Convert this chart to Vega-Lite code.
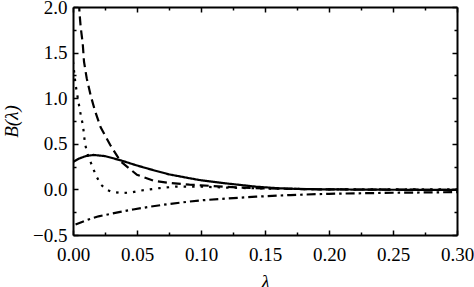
{
  "$schema": "https://vega.github.io/schema/vega-lite/v6.json",
  "width": 384,
  "height": 228,
  "autosize": {"type": "none"},
  "padding": {"left": 73, "top": 7, "right": 17, "bottom": 52},
  "background": "white",
  "config": {
    "view": {"stroke": null},
    "axis": {
      "domainColor": "black",
      "domainWidth": 2,
      "tickColor": "black",
      "tickWidth": 1.5,
      "grid": false,
      "labelFont": "Liberation Serif",
      "labelFontSize": 19,
      "labelColor": "black",
      "titleFont": "Liberation Serif",
      "titleFontSize": 19,
      "titleFontStyle": "italic",
      "titleFontWeight": "normal",
      "titleColor": "black"
    }
  },
  "data": {
    "values": [
      {"series": "a", "x": 0.0, "y": 0.30},
      {"series": "a", "x": 0.005, "y": 0.34},
      {"series": "a", "x": 0.01, "y": 0.365},
      {"series": "a", "x": 0.016, "y": 0.378},
      {"series": "a", "x": 0.025, "y": 0.365},
      {"series": "a", "x": 0.037, "y": 0.32},
      {"series": "a", "x": 0.05, "y": 0.262},
      {"series": "a", "x": 0.063, "y": 0.21},
      {"series": "a", "x": 0.075, "y": 0.165},
      {"series": "a", "x": 0.09, "y": 0.125},
      {"series": "a", "x": 0.1, "y": 0.1},
      {"series": "a", "x": 0.117, "y": 0.07},
      {"series": "a", "x": 0.13, "y": 0.05},
      {"series": "a", "x": 0.143, "y": 0.03},
      {"series": "a", "x": 0.16, "y": 0.013},
      {"series": "a", "x": 0.18, "y": 0.003},
      {"series": "a", "x": 0.2, "y": 0.0},
      {"series": "a", "x": 0.25, "y": -0.004},
      {"series": "a", "x": 0.3, "y": -0.005},

      {"series": "b", "x": 0.0048, "y": 2.05},
      {"series": "b", "x": 0.005, "y": 1.95},
      {"series": "b", "x": 0.006, "y": 1.78},
      {"series": "b", "x": 0.0076, "y": 1.6},
      {"series": "b", "x": 0.0086, "y": 1.4},
      {"series": "b", "x": 0.0107, "y": 1.22},
      {"series": "b", "x": 0.0138, "y": 1.03},
      {"series": "b", "x": 0.017, "y": 0.87},
      {"series": "b", "x": 0.0216, "y": 0.68},
      {"series": "b", "x": 0.029, "y": 0.49},
      {"series": "b", "x": 0.037, "y": 0.31},
      {"series": "b", "x": 0.05, "y": 0.16},
      {"series": "b", "x": 0.063, "y": 0.095},
      {"series": "b", "x": 0.076, "y": 0.07},
      {"series": "b", "x": 0.091, "y": 0.052},
      {"series": "b", "x": 0.1, "y": 0.045},
      {"series": "b", "x": 0.13, "y": 0.02},
      {"series": "b", "x": 0.16, "y": 0.008},
      {"series": "b", "x": 0.2, "y": 0.0},
      {"series": "b", "x": 0.3, "y": -0.005},

      {"series": "c", "x": 0.0, "y": 1.40},
      {"series": "c", "x": 0.002, "y": 1.15},
      {"series": "c", "x": 0.004, "y": 0.98},
      {"series": "c", "x": 0.006, "y": 0.82},
      {"series": "c", "x": 0.0078, "y": 0.70},
      {"series": "c", "x": 0.0094, "y": 0.50},
      {"series": "c", "x": 0.0115, "y": 0.38},
      {"series": "c", "x": 0.0146, "y": 0.27},
      {"series": "c", "x": 0.018, "y": 0.15},
      {"series": "c", "x": 0.022, "y": 0.05},
      {"series": "c", "x": 0.026, "y": 0.0},
      {"series": "c", "x": 0.03, "y": -0.025},
      {"series": "c", "x": 0.038, "y": -0.04},
      {"series": "c", "x": 0.045, "y": -0.035},
      {"series": "c", "x": 0.052, "y": -0.015},
      {"series": "c", "x": 0.06, "y": 0.0},
      {"series": "c", "x": 0.068, "y": 0.015},
      {"series": "c", "x": 0.08, "y": 0.03},
      {"series": "c", "x": 0.1, "y": 0.03},
      {"series": "c", "x": 0.12, "y": 0.02},
      {"series": "c", "x": 0.15, "y": 0.01},
      {"series": "c", "x": 0.2, "y": 0.0},
      {"series": "c", "x": 0.3, "y": 0.0},

      {"series": "d", "x": 0.002, "y": -0.385},
      {"series": "d", "x": 0.01, "y": -0.34},
      {"series": "d", "x": 0.02, "y": -0.295},
      {"series": "d", "x": 0.034, "y": -0.255},
      {"series": "d", "x": 0.047, "y": -0.22},
      {"series": "d", "x": 0.06, "y": -0.19},
      {"series": "d", "x": 0.075, "y": -0.16},
      {"series": "d", "x": 0.09, "y": -0.135},
      {"series": "d", "x": 0.1, "y": -0.12},
      {"series": "d", "x": 0.12, "y": -0.1},
      {"series": "d", "x": 0.143, "y": -0.08},
      {"series": "d", "x": 0.17, "y": -0.062},
      {"series": "d", "x": 0.2, "y": -0.048},
      {"series": "d", "x": 0.25, "y": -0.037},
      {"series": "d", "x": 0.3, "y": -0.03}
    ]
  },
  "layer": [
    {
      "mark": {"type": "line", "clip": true, "color": "black", "strokeWidth": 2.2},
      "encoding": {
        "x": {
          "field": "x", "type": "quantitative",
          "scale": {"domain": [0, 0.3], "nice": false, "zero": false},
          "axis": {
            "orient": "bottom",
            "title": "λ",
            "titlePadding": 6,
            "values": [0, 0.025, 0.05, 0.075, 0.1, 0.125, 0.15, 0.175, 0.2, 0.225, 0.25, 0.275, 0.3],
            "labelExpr": "round(datum.value*40)%2==0 ? format(datum.value,'.2f') : ''",
            "tickSize": {"condition": {"test": "round(datum.value*40)%2==0", "value": -5}, "value": -3},
            "labelPadding": 15,
            "labelFlush": false,
            "labelOverlap": false
          }
        },
        "y": {
          "field": "y", "type": "quantitative",
          "scale": {"domain": [-0.5, 2.0], "nice": false, "zero": false},
          "axis": {
            "orient": "left",
            "title": "B(λ)",
            "titlePadding": 11,
            "values": [-0.5, -0.25, 0, 0.25, 0.5, 0.75, 1, 1.25, 1.5, 1.75, 2],
            "labelExpr": "round(datum.value*4)%2==0 ? format(datum.value,'.1f') : ''",
            "tickSize": {"condition": {"test": "round(datum.value*4)%2==0", "value": -5}, "value": -3},
            "labelPadding": 11,
            "labelFlush": false,
            "labelOverlap": false
          }
        },
        "detail": {"field": "series"},
        "strokeDash": {
          "field": "series", "type": "nominal", "legend": null,
          "scale": {"domain": ["a", "b", "c", "d"], "range": [[1, 0], [9, 5], [2.5, 6], [9, 4, 2.5, 4]]}
        }
      }
    },
    {
      "mark": {"type": "point", "opacity": 0},
      "encoding": {
        "x": {
          "field": "x", "type": "quantitative",
          "axis": {
            "orient": "top", "title": null, "labels": false,
            "values": [0, 0.025, 0.05, 0.075, 0.1, 0.125, 0.15, 0.175, 0.2, 0.225, 0.25, 0.275, 0.3],
            "tickSize": {"condition": {"test": "round(datum.value*40)%2==0", "value": -5}, "value": -3}
          }
        },
        "y": {
          "field": "y", "type": "quantitative",
          "axis": {
            "orient": "right", "title": null, "labels": false,
            "values": [-0.5, -0.25, 0, 0.25, 0.5, 0.75, 1, 1.25, 1.5, 1.75, 2],
            "tickSize": {"condition": {"test": "round(datum.value*4)%2==0", "value": -5}, "value": -3}
          }
        }
      }
    }
  ],
  "resolve": {"axis": {"x": "independent", "y": "independent"}}
}
